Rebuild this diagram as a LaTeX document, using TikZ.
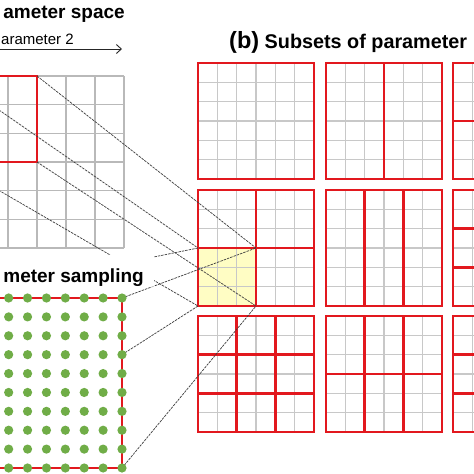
\documentclass[tikz,border=0pt]{standalone}
\usepackage{fontspec}
\setmainfont{Liberation Sans}
\usetikzlibrary{arrows.meta}
\definecolor{myred}{RGB}{226,24,30}
\definecolor{mygreen}{RGB}{112,173,71}
\definecolor{myyellow}{RGB}{255,253,196}
\definecolor{lgray}{RGB}{185,185,185}
\definecolor{sgray}{RGB}{200,200,200}
\definecolor{conngray}{RGB}{60,60,60}
\tikzset{
  redline/.style={draw=myred, line width=2.8pt},
  lgrid/.style={draw=lgray, line width=1.4pt},
  sgrid/.style={draw=sgray, line width=1.1pt},
  conn/.style={draw=conngray, line width=0.7pt, dash pattern=on 2.5pt off 1pt},
  dotstyle/.style={fill=mygreen},
  titlefont/.style={font=\bfseries\fontsize{19.8}{20}\selectfont},
  lefttitle/.style={font=\bfseries\fontsize{19}{20}\selectfont},
}
\begin{document}
\begin{tikzpicture}[x=1pt,y=-1pt]
\useasboundingbox (0,0) rectangle (474,474);
\clip (0,0) rectangle (474,474);
\fill[white] (0,0) rectangle (474,474);

% (a) parameter space grid
\foreach \i in {0,...,6} {
  \draw[lgrid] ({-50+29*\i},76) -- ({-50+29*\i},248);
  \draw[lgrid] (-50,{76+28.667*\i}) -- (124,{76+28.667*\i});
}
\draw[redline] (-50,76) rectangle (37,162);
\coordinate (sTL) at (-50,76);
\coordinate (sTR) at (37,76);
\coordinate (sBR) at (37,162);
\coordinate (sBL) at (-50,162);

% titles
\node[lefttitle, anchor=base east, inner sep=0pt] (lblA) at (125,18.5) {ameter space};
\node[font=\fontsize{15}{16}\selectfont, anchor=base west, inner sep=0pt] (lblP2) at (1,44) {arameter 2};
\coordinate (arrS) at (0,49);
\coordinate (arrE) at (122,49);
\draw[line width=0.9pt, draw=black!85, -{Straight Barb[length=5pt,width=9pt]}] (arrS) -- (arrE);
\node[titlefont, anchor=base west, inner sep=0pt] (lblB) at (229,48) {{\fontsize{23.5}{24}\selectfont(b)} Subsets of parameter};

% (b) subsets
\fill[myyellow] (198,248) rectangle (256,306);
\foreach \X/\Y/\nv/\nh in {198/63/1/1, 326/63/2/1, 453/63/1/2, 198/190/2/2, 326/190/3/1, 453/190/1/3, 198/316/3/3, 326/316/3/2, 453/316/2/3} {
  \begin{scope}[shift={(\X,\Y)}]
    \foreach \k in {1,...,5} {
      \draw[sgrid] ({\k*116/6},0) -- ({\k*116/6},116);
      \draw[sgrid] (0,{\k*116/6}) -- (116,{\k*116/6});
    }
    \foreach \a in {1,...,\nv} {
      \draw[redline] ({116*\a/\nv},0) -- ({116*\a/\nv},116);
    }
    \foreach \b in {1,...,\nh} {
      \draw[redline] (0,{116*\b/\nh}) -- (116,{116*\b/\nh});
    }
    \draw[redline] (0,0) rectangle (116,116);
  \end{scope}
}
\coordinate (yTL) at (198,248);
\coordinate (yTR) at (256,248);
\coordinate (yBR) at (256,306);
\coordinate (yBL) at (198,306);

% sampling corner coordinates
\coordinate (dTL) at (-48,298);
\coordinate (dTR) at (122,298);
\coordinate (dR4) at (122,354.7);
\coordinate (dBR) at (122,468);

% connectors
\draw[conn] (sTL) -- (yTL);
\draw[conn] (sTR) -- (yTR);
\draw[conn] (sBR) -- (yBR);
\draw[conn] (sBL) -- (yBL);
\draw[conn] (dTL) -- (yTL);
\draw[conn] (dTR) -- (yTR);
\draw[conn] (dR4) -- (yBL);
\draw[conn] (dBR) -- (yBR);

% white mask behind the sampling label, then the label
\fill[white] (-2,255) -- (154,255) -- (154,286.5) -- (-2,292) -- cycle;
\node[lefttitle, anchor=base east, inner sep=0pt] (lblC) at (144,282) {meter sampling};

% sampling grid
\draw[draw=myred, line width=2.4pt] (dTL) rectangle (dBR);
\foreach \i in {0,...,9} {
  \foreach \j in {0,...,9} {
    \fill[dotstyle] ({-48+\i*18.889},{298+\j*18.889}) circle[radius=4.6pt];
  }
}
\end{tikzpicture}
\end{document}
